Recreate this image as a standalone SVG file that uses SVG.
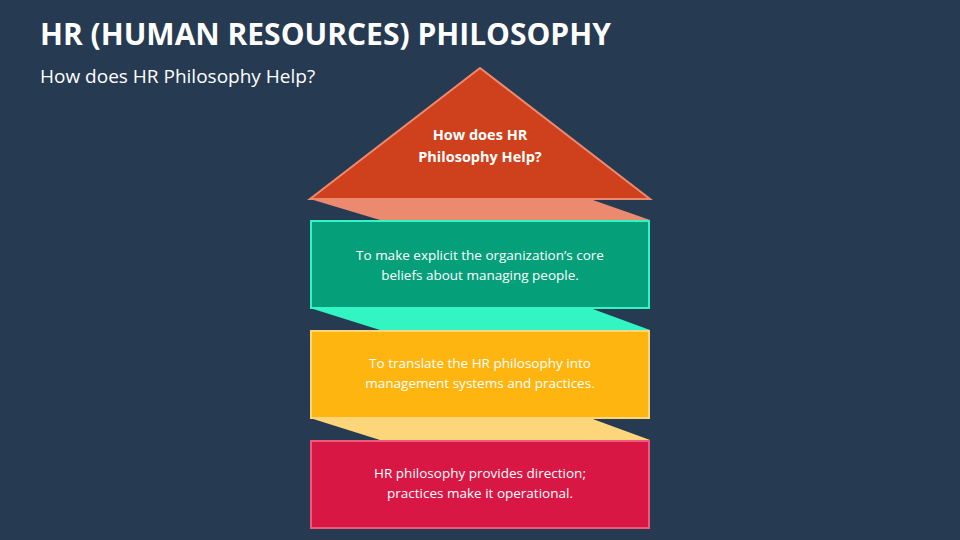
<svg xmlns="http://www.w3.org/2000/svg" width="960" height="540" viewBox="0 0 960 540">
<style>
.t{font-family:"Open Sans","Liberation Sans",sans-serif;fill:#fff;text-anchor:middle}
.b{font-size:13.5px}
.box{stroke-width:2}
</style>
<rect width="960" height="540" fill="#263a52"/>
<text x="40" y="45" font-family="Open Sans,Liberation Sans,sans-serif" font-weight="bold" font-size="30" fill="#fff">HR (HUMAN RESOURCES) PHILOSOPHY</text>
<text x="40" y="83" font-family="Open Sans,Liberation Sans,sans-serif" font-size="19" fill="#fff">How does HR Philosophy Help?</text>
<g id="connectors">
<polygon points="310,199 590,199 650,220 380,220" fill="#ec8a70"/>
<polygon points="310,308 590,308 650,330 380,330" fill="#33f5c4"/>
<polygon points="310,418 590,418 650,440 380,440" fill="#fdd57a"/>
</g>
<g id="top">
<polygon points="480,68 650,199 310,199" fill="#cf401c" stroke="#ec8a70" stroke-width="2"/>
<text class="t" font-weight="bold" font-size="14.5" x="480" y="140">How does HR</text>
<text class="t" font-weight="bold" font-size="14.5" x="480" y="162">Philosophy Help?</text>
</g>
<g id="n1">
<rect class="box" x="311" y="221" width="338" height="87" fill="#05a07a" stroke="#33f5c4"/>
<text class="t b" x="480" y="260">To make explicit the organization’s core</text>
<text class="t b" x="480" y="280">beliefs about managing people.</text>
</g>
<g id="n2">
<rect class="box" x="311" y="331" width="338" height="87" fill="#ffb510" stroke="#fdd57a"/>
<text class="t b" x="480" y="368">To translate the HR philosophy into</text>
<text class="t b" x="480" y="388">management systems and practices.</text>
</g>
<g id="n3">
<rect class="box" x="311" y="441" width="338" height="87" fill="#d91744" stroke="#f05a7a"/>
<text class="t b" x="480" y="478">HR philosophy provides direction;</text>
<text class="t b" x="480" y="498">practices make it operational.</text>
</g>
</svg>
